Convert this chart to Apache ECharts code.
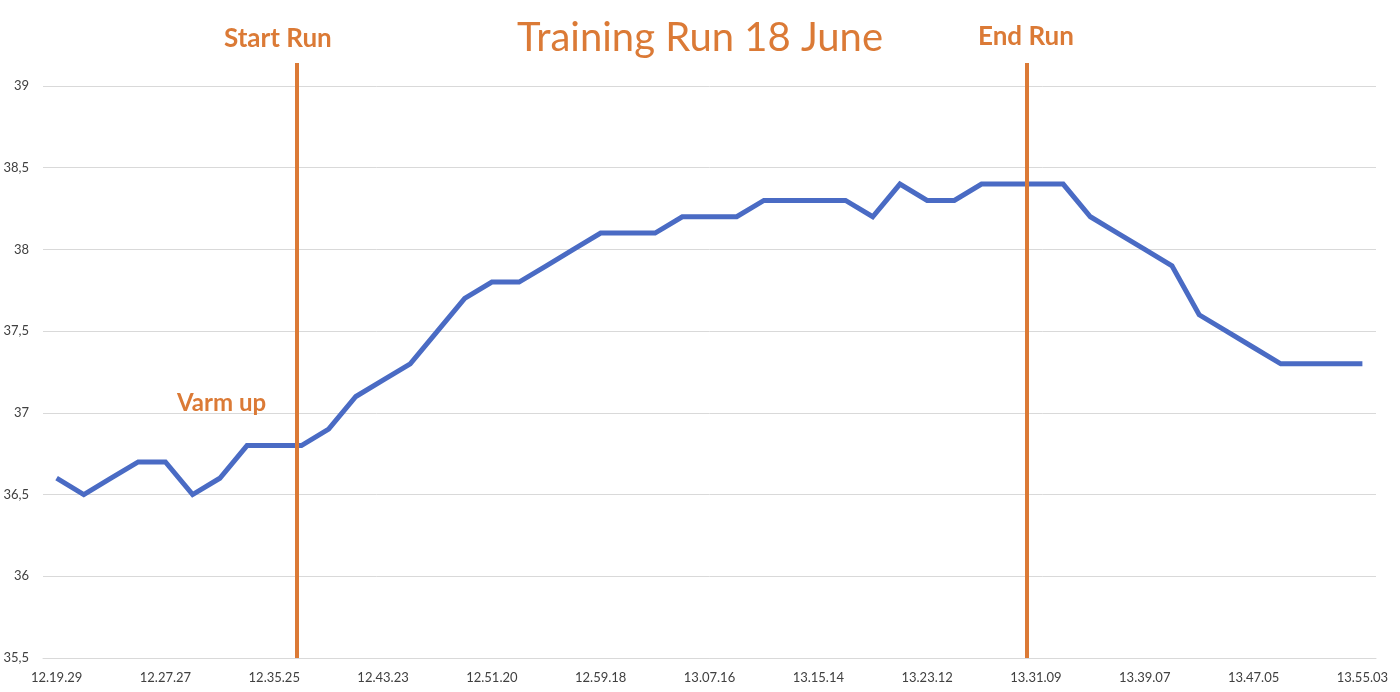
<!DOCTYPE html>
<html>
<head>
<meta charset="utf-8">
<script src="https://cdn.jsdelivr.net/npm/echarts@6/dist/echarts.min.js"></script>
<style>html,body{margin:0;padding:0;background:#fff}#c{width:1400px;height:692px}</style>
</head>
<body>
<div id="c"></div>
<script>
const times = ['12.19.29','12.21.29','12.23.28','12.25.28','12.27.27','12.29.27','12.31.26','12.33.26','12.35.25','12.37.25','12.39.24','12.41.24','12.43.23','12.45.22','12.47.22','12.49.21','12.51.20','12.53.20','12.55.19','12.57.19','12.59.18','13.01.18','13.03.17','13.05.17','13.07.16','13.09.16','13.11.15','13.13.15','13.15.14','13.17.14','13.19.13','13.21.13','13.23.12','13.25.11','13.27.11','13.29.10','13.31.09','13.33.09','13.35.08','13.37.08','13.39.07','13.41.07','13.43.06','13.45.06','13.47.05','13.49.05','13.51.04','13.53.04','13.55.03'];
const temps = [36.6,36.5,36.6,36.7,36.7,36.5,36.6,36.8,36.8,36.8,36.9,37.1,37.2,37.3,37.5,37.7,37.8,37.8,37.9,38.0,38.1,38.1,38.1,38.2,38.2,38.2,38.3,38.3,38.3,38.3,38.2,38.4,38.3,38.3,38.4,38.4,38.4,38.4,38.2,38.1,38.0,37.9,37.6,37.5,37.4,37.3,37.3,37.3,37.3];
const yTicks = [35.5,36,36.5,37,37.5,38,38.5,39];
const markerPositions = [8.84, 35.68];   // Start Run / End Run, in category-index units
const orange = '#DB7A36';
const blue = '#4A6BC4';
const font = 'Lato, "Open Sans", sans-serif';

const chart = echarts.init(document.getElementById('c'));
chart.setOption({
  animation: false,
  backgroundColor: '#fff',
  title: [
    {text: 'Training Run 18 June', left: 'center', top: 13,
     textStyle: {color: orange, fontSize: 40, fontWeight: 'normal', fontFamily: font}},
    {text: 'Start Run', left: 224, top: 26, padding: 0,
     textStyle: {color: orange, fontSize: 26, fontWeight: 'bold', fontFamily: font}},
    {text: 'End Run', left: 978, top: 24, padding: 0,
     textStyle: {color: orange, fontSize: 26, fontWeight: 'bold', fontFamily: font}},
    {text: 'Varm up', left: 177, top: 391, padding: 0,
     textStyle: {color: orange, fontSize: 24, fontWeight: 'bold', fontFamily: font}}
  ],
  grid: [
    {left: 43, right: 24, top: 86, bottom: 34, containLabel: false},
    {left: 43, right: 24, top: 63, bottom: 34, containLabel: false}
  ],
  xAxis: [
    {type: 'category', data: times, boundaryGap: true, gridIndex: 0,
     axisLine: {show: true, lineStyle: {color: '#d9d9d9'}},
     axisTick: {show: false},
     axisLabel: {interval: 3, color: '#404040', fontSize: 13, fontFamily: font, margin: 13},
     splitLine: {show: false}},
    {type: 'value', min: -0.5, max: times.length - 0.5, gridIndex: 1, show: false}
  ],
  yAxis: [
    {type: 'value', min: yTicks[0], max: yTicks[yTicks.length - 1], interval: 0.5, gridIndex: 0,
     axisLine: {show: false}, axisTick: {show: false},
     axisLabel: {color: '#404040', fontSize: 13, fontFamily: font, margin: 14,
       formatter: v => String(v).replace('.', ',')},
     splitLine: {lineStyle: {color: '#d9d9d9', width: 1}}},
    {type: 'value', min: 0, max: 1, gridIndex: 1, show: false}
  ],
  series: [
    {type: 'line', data: temps, xAxisIndex: 0, yAxisIndex: 0, symbol: 'none', z: 2,
     lineStyle: {color: blue, width: 5, join: 'miter'}, itemStyle: {color: blue}},
    {type: 'line', xAxisIndex: 1, yAxisIndex: 1, symbol: 'none', showSymbol: false, silent: true, z: 3,
     data: markerPositions.map(x => [x, 0]),
     lineStyle: {opacity: 0},
     markLine: {
       symbol: ['none', 'none'], silent: true, label: {show: false},
       lineStyle: {color: orange, width: 4, type: 'solid'},
       data: markerPositions.map(x => ({xAxis: x}))
     }}
  ]
});
</script>
</body>
</html>
